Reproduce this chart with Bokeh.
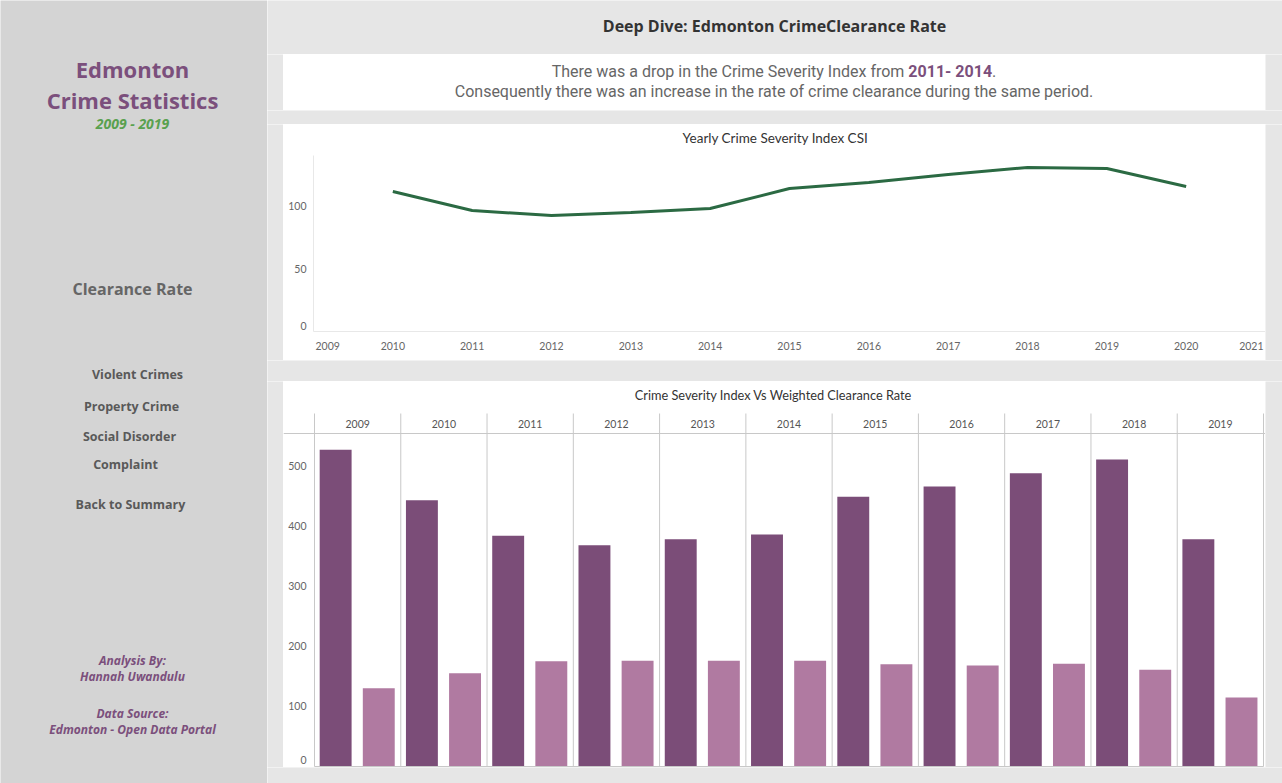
from bokeh.plotting import figure
from bokeh.layouts import row, column
from bokeh.models import Range1d, Div
from bokeh.core.properties import value
from bokeh.embed import file_html
from bokeh.resources import INLINE

# ---------------- data ----------------
csi_years = [2010, 2011, 2012, 2013, 2014, 2015, 2016, 2017, 2018, 2019, 2020]
csi_values = [111.1, 96.0, 92.1, 94.4, 97.6, 113.5, 118.3, 124.6, 130.2, 129.4, 115.1]
axis_years = [2009, 2010, 2011, 2012, 2013, 2014, 2015, 2016, 2017, 2018, 2019, 2020, 2021]
top_y_ticks = [0, 50, 100]

bar_years = [2009, 2010, 2011, 2012, 2013, 2014, 2015, 2016, 2017, 2018, 2019]
csi_bar_values = [527, 443, 384, 368, 378, 386, 449, 466, 488, 511, 378]
clearance_values = [130, 155, 175, 176, 176, 176, 170, 168, 171, 161, 115]
bottom_y_ticks = [0, 100, 200, 300, 400, 500]

# ---------------- styles ----------------
SIDEBAR_BG = "#d4d4d4"
MAIN_BG = "#e6e6e6"
PURPLE = "#7b4f7c"
GREEN = "#59a14f"
GREY_TXT = "#666666"
MENU_TXT = "#595959"
DARK_TXT = "#333333"
BAR_DARK = "#7b4d78"
BAR_LIGHT = "#b07aa1"
LINE_GREEN = "#2b6a43"
SEP = "#c8c8c8"
FAINT = "#e8e8e8"
FONT = value("Open Sans")
CFONT = value("Lato")
PAGE_W, PAGE_H = 1282, 783


def canvas(w, h, bg):
    p = figure(width=w, height=h, x_range=Range1d(0, w), y_range=Range1d(h, 0),
               toolbar_location=None, output_backend="svg",
               x_axis_type=None, y_axis_type=None, min_border=0)
    p.background_fill_color = bg
    p.border_fill_color = bg
    p.outline_line_color = None
    return p


def txt(p, x, y, s, size, color, style="normal", font=FONT, align="center"):
    p.text(x=[x], y=[y], text=[s], text_font=font, text_font_size=size,
           text_font_style=style, text_color=color, text_align=align,
           text_baseline="middle")


# ---------------- sidebar ----------------
SB_W = 267
side = canvas(SB_W, PAGE_H, SIDEBAR_BG)
txt(side, 132, 68, "Edmonton", "22px", PURPLE, "bold")
txt(side, 132, 99, "Crime Statistics", "22px", PURPLE, "bold")
txt(side, 132, 123, "2009 - 2019", "14px", GREEN, "bold italic")
txt(side, 132, 288, "Clearance Rate", "16px", GREY_TXT, "bold")
txt(side, 137, 374, "Violent Crimes", "12.5px", MENU_TXT, "bold")
txt(side, 131, 406, "Property Crime", "12.5px", MENU_TXT, "bold")
txt(side, 129, 436, "Social Disorder", "12.5px", MENU_TXT, "bold")
txt(side, 125, 464, "Complaint", "12.5px", MENU_TXT, "bold")
txt(side, 130, 504, "Back to Summary", "12.5px", MENU_TXT, "bold")
txt(side, 132, 660, "Analysis By:", "12px", PURPLE, "bold italic")
txt(side, 132, 676, "Hannah Uwandulu", "12px", PURPLE, "bold italic")
txt(side, 132, 713, "Data Source:", "12px", PURPLE, "bold italic")
txt(side, 132, 729, "Edmonton - Open Data Portal", "12px", PURPLE, "bold italic")

# ---------------- right column ----------------
RC_W = PAGE_W - SB_W
rx = lambda x: x - SB_W

title_band = canvas(RC_W, 54, MAIN_BG)
txt(title_band, rx(774), 25, "Deep Dive: Edmonton CrimeClearance Rate", "16px", DARK_TXT, "bold")

PANEL_L, PANEL_R = 283, 1265
PANEL_W = PANEL_R - PANEL_L
LEFT_GAP = PANEL_L - SB_W
RIGHT_GAP = RC_W - LEFT_GAP - PANEL_W


def spacer(w, h):
    return canvas(w, h, MAIN_BG)


banner = Div(
    text=('<div style="box-sizing:border-box;width:%dpx;height:56px;padding-top:8px;'
          'line-height:20px;text-align:center;background:#ffffff;'
          'font-family:Roboto,sans-serif;font-size:16px;color:#666666;">'
          'There was a drop in the Crime Severity Index from '
          '<b style="color:%s">2011- 2014</b>.<br>'
          'Consequently there was an increase in the rate of crime clearance during the same period.'
          '</div>') % (PANEL_W, PURPLE),
    width=PANEL_W, height=56, margin=(0, 0, 0, 0),
    styles={"background-color": "#ffffff"})

# ---------------- top chart ----------------
T_TOP, T_BOT, T_BASE = 124, 360, 331   # panel top/bottom, zero line (page px)
T_LEFT, T_RIGHT, T_PLOT_TOP = 313, 1265, 155
T_PPU = 1.26
top_x = lambda px: 2009 + (px - T_LEFT) * 12 / (T_RIGHT - T_LEFT)
top_y = lambda py: (T_BASE - py) / T_PPU

c1 = figure(width=PANEL_W, height=T_BOT - T_TOP,
            x_range=Range1d(top_x(PANEL_L), top_x(PANEL_R)),
            y_range=Range1d(top_y(T_BOT), top_y(T_TOP)),
            toolbar_location=None, output_backend="svg",
            x_axis_type=None, y_axis_type=None, min_border=0)
c1.background_fill_color = "white"
c1.border_fill_color = "white"
c1.outline_line_color = None

x0, x1 = axis_years[0], axis_years[-1]
c1.segment(x0=[x0], y0=[0], x1=[x0], y1=[top_y(T_PLOT_TOP)], line_color=FAINT, line_width=1)
c1.segment(x0=[x0], y0=[0], x1=[x1], y1=[0], line_color=FAINT, line_width=1)

c1.line(csi_years, csi_values, line_color=LINE_GREEN, line_width=3)

lab_y = top_y(345)
c1.text(x=axis_years[1:-1], y=[lab_y] * (len(axis_years) - 2),
        text=[str(v) for v in axis_years[1:-1]], text_font=CFONT,
        text_font_size="10.5px", text_color=GREY_TXT, text_align="center",
        text_baseline="middle")
c1.text(x=axis_years[:1], y=[lab_y], text=[str(axis_years[0])], x_offset=2,
        text_font=CFONT, text_font_size="10.5px", text_color=GREY_TXT,
        text_align="left", text_baseline="middle")
c1.text(x=axis_years[-1:], y=[lab_y], text=[str(axis_years[-1])], x_offset=-2,
        text_font=CFONT, text_font_size="10.5px", text_color=GREY_TXT,
        text_align="right", text_baseline="middle")
# y tick labels (bottom label sits slightly raised, as in the original)
c1.text(x=[top_x(306)] * (len(top_y_ticks) - 1), y=top_y_ticks[1:],
        text=[str(v) for v in top_y_ticks[1:]], text_font=CFONT,
        text_font_size="10.5px", text_color=GREY_TXT, text_align="right",
        text_baseline="middle")
c1.text(x=[top_x(306)], y=[top_y_ticks[0]], y_offset=-6, text=[str(top_y_ticks[0])],
        text_font=CFONT, text_font_size="10.5px", text_color=GREY_TXT,
        text_align="right", text_baseline="middle")
txt(c1, top_x(775), top_y(137), "Yearly Crime Severity Index CSI", "13.5px", DARK_TXT, font=CFONT)

# ---------------- bottom chart ----------------
B_TOP, B_BOT, B_BASE = 381, 767, 766
B_LEFT, B_RIGHT_DATA = 314, 1263
B_PPU = 0.601
n = len(bar_years)
b_x = lambda px: (px - B_LEFT) * n / (B_RIGHT_DATA - B_LEFT)
b_y = lambda py: (B_BASE - py) / B_PPU

c2 = figure(width=PANEL_W, height=B_BOT - B_TOP,
            x_range=Range1d(b_x(PANEL_L), b_x(PANEL_R)),
            y_range=Range1d(b_y(B_BOT), b_y(B_TOP)),
            toolbar_location=None, output_backend="svg",
            x_axis_type=None, y_axis_type=None, min_border=0)
c2.background_fill_color = "white"
c2.border_fill_color = "white"
c2.outline_line_color = None
header_top = b_y(413)
header_line = b_y(433)

idx = list(range(n))
c2.vbar(x=[i + 0.245 for i in idx], top=csi_bar_values, width=0.37,
        fill_color=BAR_DARK, line_color=None)
c2.vbar(x=[i + 0.745 for i in idx], top=clearance_values, width=0.37,
        fill_color=BAR_LIGHT, line_color=None)

seps = list(range(0, n + 1))
c2.segment(x0=seps, y0=[0] * len(seps), x1=seps, y1=[header_top] * len(seps),
           line_color=SEP, line_width=1)
c2.segment(x0=[0], y0=[0], x1=[n], y1=[0], line_color=SEP, line_width=1)
c2.segment(x0=[b_x(PANEL_L)], y0=[header_line], x1=[b_x(PANEL_R)], y1=[header_line],
           line_color=SEP, line_width=1)

c2.text(x=[i + 0.5 for i in idx], y=[b_y(423)] * n, text=[str(v) for v in bar_years],
        text_font=CFONT, text_font_size="10.5px", text_color="#555555",
        text_align="center", text_baseline="middle")
c2.text(x=[b_x(306)] * (len(bottom_y_ticks) - 1), y=bottom_y_ticks[1:],
        text=[str(v) for v in bottom_y_ticks[1:]], text_font=CFONT,
        text_font_size="10.5px", text_color=GREY_TXT, text_align="right",
        text_baseline="middle")
c2.text(x=[b_x(306)], y=[bottom_y_ticks[0]], y_offset=-7, text=[str(bottom_y_ticks[0])],
        text_font=CFONT, text_font_size="10.5px", text_color=GREY_TXT,
        text_align="right", text_baseline="middle")
txt(c2, b_x(773), b_y(394), "Crime Severity Index Vs Weighted Clearance Rate", "12.75px", DARK_TXT, font=CFONT)

right = column(
    title_band,
    row(spacer(LEFT_GAP, 56), banner, spacer(RIGHT_GAP, 56)),
    spacer(RC_W, T_TOP - 110),
    row(spacer(LEFT_GAP, T_BOT - T_TOP), c1, spacer(RIGHT_GAP, T_BOT - T_TOP)),
    spacer(RC_W, B_TOP - T_BOT),
    row(spacer(LEFT_GAP, B_BOT - B_TOP), c2, spacer(RIGHT_GAP, B_BOT - B_TOP)),
    spacer(RC_W, PAGE_H - B_BOT),
)
p = row(side, right)

open("out.html", "w").write(file_html(p, INLINE))
